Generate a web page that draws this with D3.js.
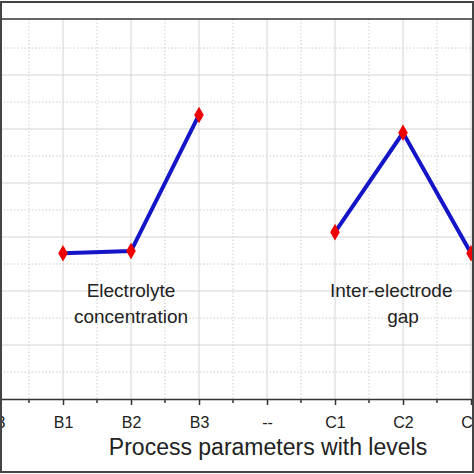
<!DOCTYPE html>
<html>
<head>
<script src="https://cdn.jsdelivr.net/npm/d3@7"></script>
<style>body{margin:0;background:#fff}</style>
</head>
<body>
<div id="container"></div>
<script>
/* CONSTANTS AND GLOBALS */
const width = 474, height = 474;

// DATA
const levels = ["A3", "B1", "B2", "B3", "--", "C1", "C2", "C3", "D1"];
const tickLabels = ["A3", "B1", "B2", "B3", "--", "C1", "C2", "C3", "D1"];
const groupB = [["B1", 2.70], ["B2", 2.74], ["B3", 5.26]];
const groupC = [["C1", 3.09], ["C2", 4.93], ["C3", 2.70]];
const yTicks = [1, 2, 3, 4, 5, 6, 7];

// SCALES
const xScale = d3.scalePoint().domain(levels).range([-5, -5 + 68 * 8]);
const yScale = d3.scaleLinear().domain([0, 7]).range([399, 21]);

const svg = d3.select("#container").append("svg")
  .attr("width", width).attr("height", height)
  .style("font-family", "Liberation Sans, Arial, sans-serif");

const plot = svg.append("g");

// grid
const step = xScale.step();
plot.selectAll(".vminor").data(levels).join("line")
  .attr("x1", d => xScale(d) + step / 2).attr("x2", d => xScale(d) + step / 2)
  .attr("y1", 19).attr("y2", 399)
  .attr("stroke", "#ccc").attr("stroke-dasharray", "1.5,2");
plot.selectAll(".hminor").data(yTicks).join("line")
  .attr("x1", 0).attr("x2", width)
  .attr("y1", d => yScale(d - 0.5)).attr("y2", d => yScale(d - 0.5))
  .attr("stroke", "#ccc").attr("stroke-dasharray", "1.5,2");
plot.selectAll(".vmajor").data(levels).join("line")
  .attr("x1", d => xScale(d)).attr("x2", d => xScale(d))
  .attr("y1", 19).attr("y2", 399).attr("stroke", "#d4d4d4");
plot.selectAll(".hmajor").data(yTicks.slice(0, 6)).join("line")
  .attr("x1", 0).attr("x2", width)
  .attr("y1", d => yScale(d)).attr("y2", d => yScale(d)).attr("stroke", "#d4d4d4");

// top frame line
svg.append("line").attr("x1", 0).attr("x2", width).attr("y1", 19).attr("y2", 19)
  .attr("stroke", "#333").attr("stroke-width", 1.5);

// x axis
const xAxis = svg.append("g").attr("transform", "translate(0,399)")
  .call(d3.axisBottom(xScale).tickSize(6).tickFormat((d, i) => tickLabels[i]));
xAxis.select(".domain").attr("stroke", "#333").attr("stroke-width", 1.5);
xAxis.selectAll(".tick line").attr("stroke", "#333").attr("stroke-width", 1.5);
xAxis.selectAll(".tick text").attr("font-size", 16).attr("fill", "#222").attr("dy", "1.25em");
xAxis.selectAll(".minor").data(levels).join("line")
  .attr("x1", d => xScale(d) + step / 2).attr("x2", d => xScale(d) + step / 2)
  .attr("y1", 0).attr("y2", 4).attr("stroke", "#333").attr("stroke-width", 1.5);

// LINES
const lineGen = d3.line().x(d => xScale(d[0])).y(d => yScale(d[1]));
[groupB, groupC].forEach(g => {
  svg.append("path").attr("d", lineGen(g)).attr("fill", "none")
    .attr("stroke", "#1515c8").attr("stroke-width", 4);
  svg.selectAll(null).data(g).join("path")
    .attr("transform", d => `translate(${xScale(d[0])},${yScale(d[1])})`)
    .attr("d", d3.symbol(d3.symbolDiamond, 80)).attr("fill", "#ee0000");
});

// annotations
const ann = [["Electrolyte", "B2", 297, "middle"], ["concentration", "B2", 323, "middle"], ["Inter-electrode", "C1", 297, "start"], ["gap", "C2", 323, "middle"]];
svg.selectAll(".ann").data(ann).join("text")
  .attr("x", d => d[3] === "start" ? xScale(d[1]) - 5 : xScale(d[1])).attr("y", d => d[2])
  .attr("text-anchor", d => d[3]).attr("font-size", 19).attr("fill", "#222")
  .text(d => d[0]);

svg.append("text").attr("x", 268).attr("y", 455).attr("text-anchor", "middle")
  .attr("font-size", 23).attr("fill", "#222").text("Process parameters with levels");

// outer border
svg.append("rect").attr("x", 1).attr("y", 2).attr("width", width - 2).attr("height", height - 4)
  .attr("fill", "none").attr("stroke", "#444").attr("stroke-width", 2);
</script>
</body>
</html>
